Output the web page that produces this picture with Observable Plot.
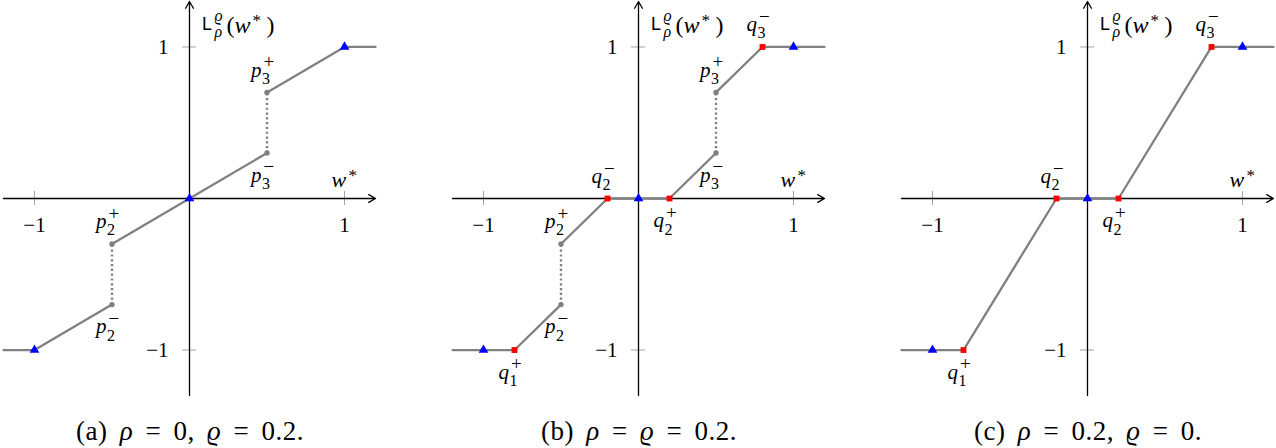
<!DOCTYPE html>
<html>
<head>
<meta charset="utf-8">
<script src="https://cdn.jsdelivr.net/npm/d3@7"></script>
<script src="https://cdn.jsdelivr.net/npm/@observablehq/plot@0.6"></script>
<style>
  html, body { margin: 0; padding: 0; background: #fff; }
  body { width: 1276px; height: 448px; overflow: hidden; position: relative; font-family: "Liberation Serif"; }
  .panel { position: absolute; top: 0; width: 380px; height: 448px; }
  .panel svg { display: block; overflow: visible; }
  .cap { position: absolute; top: 415px; left: 0; width: 380px; text-align: center; font-size: 27px; line-height: 32px; word-spacing: 5px; letter-spacing: 0.5px; color: #000; white-space: nowrap; font-family: "Liberation Serif"; }
</style>
</head>
<body>
<div id="root"></div>
<script>
// ---------------- data ----------------
const axisX = [-1.2, 1.2];
const axisY = [-1.3, 1.3];
const xTicks = [-1, 1];
const xTickLabels = ["\u22121", "1"];
const yTicks = [-1, 1];
const yTickLabels = ["\u22121", "1"];
const captions = ["(a) \u03c1 = 0, \u03f1 = 0.2.", "(b) \u03c1 = \u03f1 = 0.2.", "(c) \u03c1 = 0.2, \u03f1 = 0."];

// panel (a)
const curveA_x = [-1.2, -1, -0.5, -0.5, 0, 0.5, 0.5, 1, 1.2];
const curveA_y = [-1, -1, -0.7, -0.3, 0, 0.3, 0.7, 1, 1];
const curveA_seg = [1, 1, 1, 2, 2, 2, 3, 3, 3];
const jumpA_x = [-0.5, 0.5];
const jumpA_lo = [-0.7, 0.3];
const jumpA_hi = [-0.3, 0.7];
const triA_x = [-1, 0, 1];
const triA_y = [-1, 0, 1];
const sqA_x = [];
const sqA_y = [];
const labA_base = ["p", "p", "p", "p"];
const labA_sub = ["2", "2", "3", "3"];
const labA_sup = ["\u2212", "+", "\u2212", "+"];
const labA_x = [-0.5, -0.5, 0.5, 0.5];
const labA_y = [-0.7, -0.3, 0.3, 0.7];
const labA_side = ["below", "above", "below", "above"];

// panel (b)
const curveB_x = [-1.2, -0.8, -0.5, -0.5, -0.2, 0.2, 0.5, 0.5, 0.8, 1.2];
const curveB_y = [-1, -1, -0.7, -0.3, 0, 0, 0.3, 0.7, 1, 1];
const curveB_seg = [1, 1, 1, 2, 2, 2, 2, 3, 3, 3];
const jumpB_x = [-0.5, 0.5];
const jumpB_lo = [-0.7, 0.3];
const jumpB_hi = [-0.3, 0.7];
const triB_x = [-1, 0, 1];
const triB_y = [-1, 0, 1];
const sqB_x = [-0.8, -0.2, 0.2, 0.8];
const sqB_y = [-1, 0, 0, 1];
const labB_base = ["p", "p", "p", "p", "q", "q", "q", "q"];
const labB_sub = ["2", "2", "3", "3", "1", "2", "2", "3"];
const labB_sup = ["\u2212", "+", "\u2212", "+", "+", "\u2212", "+", "\u2212"];
const labB_x = [-0.5, -0.5, 0.5, 0.5, -0.8, -0.2, 0.2, 0.8];
const labB_y = [-0.7, -0.3, 0.3, 0.7, -1, 0, 0, 1];
const labB_side = ["below", "above", "below", "above", "below", "above", "below", "above"];

// panel (c)
const curveC_x = [-1.2, -0.8, -0.2, 0.2, 0.8, 1.2];
const curveC_y = [-1, -1, 0, 0, 1, 1];
const curveC_seg = [1, 1, 1, 1, 1, 1];
const jumpC_x = [];
const jumpC_lo = [];
const jumpC_hi = [];
const triC_x = [-1, 0, 1];
const triC_y = [-1, 0, 1];
const sqC_x = [-0.8, -0.2, 0.2, 0.8];
const sqC_y = [-1, 0, 0, 1];
const labC_base = ["q", "q", "q", "q"];
const labC_sub = ["1", "2", "2", "3"];
const labC_sup = ["+", "\u2212", "+", "\u2212"];
const labC_x = [-0.8, -0.2, 0.2, 0.8];
const labC_y = [-1, 0, 0, 1];
const labC_side = ["below", "above", "below", "above"];

// ---------------- drawing ----------------
const GRAY = "#808080";
const SERIF = "Liberation Serif";
const SANS = "Liberation Sans";
const panelLefts = [0, 449, 898];

function zipPts(xs, ys, extra = {}) {
  return xs.map((x, i) => {
    const o = {x, y: ys[i]};
    for (const k in extra) o[k] = extra[k][i];
    return o;
  });
}

function labelMarks(labels) {
  const marks = [];
  const offs = {
    above: {base: -15.5, sub: -8.5, sup: -24},
    below: {base: 28.5, sub: 36, sup: 20}
  };
  for (const side of ["above", "below"]) {
    const d = labels.filter(l => l.side === side);
    if (!d.length) continue;
    const o = offs[side];
    marks.push(Plot.text(d, {x: "x", y: "y", text: "base", textAnchor: "start", lineAnchor: "bottom",
      dx: -16, dy: o.base, fontSize: 21, fontStyle: "italic", fontFamily: SERIF, fill: "black"}));
    marks.push(Plot.text(d, {x: "x", y: "y", text: "sub", textAnchor: "start", lineAnchor: "bottom",
      dx: -5, dy: o.sub, fontSize: 16, fontFamily: SERIF, fill: "black"}));
    marks.push(Plot.text(d, {x: "x", y: "y", text: "sup", textAnchor: "start", lineAnchor: "bottom",
      dx: -3.5, dy: o.sup, fontSize: 19, fontFamily: SERIF, fill: "black"}));
  }
  return marks;
}

function txt(str, x, y, opts) {
  return Plot.text([str], Object.assign({x: () => x, y: () => y, text: d => d, textAnchor: "start", lineAnchor: "bottom",
    fontFamily: SERIF, fontSize: 22, fill: "black"}, opts));
}

function makePanel(p) {
  const curve = zipPts(p.cx, p.cy, {seg: p.cseg});
  const jumps = p.jx.map((x, i) => ({x, lo: p.jlo[i], hi: p.jhi[i]}));
  const ends = jumps.flatMap(j => [{x: j.x, y: j.lo}, {x: j.x, y: j.hi}]);
  const tris = zipPts(p.tx, p.ty);
  const sqs = zipPts(p.sx, p.sy);
  const labels = zipPts(p.lx, p.ly, {base: p.lbase, sub: p.lsub, sup: p.lsup, side: p.lside});

  const marks = [
    // axis ticks
    Plot.ruleX(xTicks, {x: d => d, y1: 0, y2: 0, insetTop: -7, insetBottom: -7, stroke: "#8a8a8a", strokeWidth: 0.8}),
    Plot.ruleY(yTicks, {y: d => d, x1: 0, x2: 0, insetLeft: -7, insetRight: -7, stroke: "#8a8a8a", strokeWidth: 0.8}),
    // axes with arrow heads
    Plot.arrow([0], {x1: axisX[0], x2: axisX[1], y1: 0, y2: 0, stroke: "black", strokeWidth: 1.3, headLength: 9, headAngle: 60}),
    Plot.arrow([0], {x1: 0, x2: 0, y1: axisY[0], y2: axisY[1], stroke: "black", strokeWidth: 1.3, headLength: 9, headAngle: 60}),
    // tick labels
    Plot.text(xTicks, {x: d => d, y: 0, text: (d, i) => xTickLabels[i], lineAnchor: "bottom", dy: 33, fontSize: 21, fontFamily: SERIF, fill: "black"}),
    Plot.text(yTicks, {x: 0, y: d => d, text: (d, i) => yTickLabels[i], textAnchor: "end", dx: -21, fontSize: 21, fontFamily: SERIF, fill: "black"}),
    // the function
    Plot.line(curve, {x: "x", y: "y", z: "seg", stroke: GRAY, strokeWidth: 2.3}),
    Plot.link(jumps, {x1: "x", x2: "x", y1: "lo", y2: "hi", stroke: GRAY, strokeWidth: 2.4, strokeDasharray: "2.2,2.6"}),
    Plot.dot(ends, {x: "x", y: "y", r: 2.7, fill: GRAY}),
    Plot.dot(sqs, {x: "x", y: "y", symbol: "square", r: 3.3, fill: "#ff0000"}),
    Plot.dot(tris, {x: "x", y: "y", symbol: "triangle", r: 3.6, fill: "#0000ff"}),
    ...labelMarks(labels),
    // axis titles
    txt("L", 0, axisY[1], {dx: 12.5, dy: 28, fontFamily: SANS, fontSize: 18}),
    txt("\u03f1", 0, axisY[1], {dx: 25, dy: 19, fontStyle: "italic", fontSize: 16}),
    txt("\u03c1", 0, axisY[1], {dx: 25, dy: 35, fontStyle: "italic", fontSize: 16}),
    txt("(", 0, axisY[1], {dx: 37, dy: 31, fontSize: 24}),
    txt("w", 0, axisY[1], {dx: 45, dy: 31, fontStyle: "italic", fontSize: 24}),
    txt("*", 0, axisY[1], {dx: 63, dy: 24, fontSize: 17}),
    txt(")", 0, axisY[1], {dx: 77, dy: 31, fontSize: 24}),
    txt("w", xTicks[1], 0, {dx: -13, dy: -11.5, fontStyle: "italic"}),
    txt("*", xTicks[1], 0, {dx: 4, dy: -18, fontSize: 17})
  ];

  return Plot.plot({
    width: 380, height: 400,
    marginLeft: 3, marginRight: 5, marginTop: 1, marginBottom: 5,
    x: {domain: axisX, axis: null},
    y: {domain: axisY, axis: null},
    style: {background: "white", overflow: "visible", fontFamily: SERIF},
    marks
  });
}

const panelData = [
  {cx: curveA_x, cy: curveA_y, cseg: curveA_seg, jx: jumpA_x, jlo: jumpA_lo, jhi: jumpA_hi, tx: triA_x, ty: triA_y, sx: sqA_x, sy: sqA_y,
   lbase: labA_base, lsub: labA_sub, lsup: labA_sup, lx: labA_x, ly: labA_y, lside: labA_side},
  {cx: curveB_x, cy: curveB_y, cseg: curveB_seg, jx: jumpB_x, jlo: jumpB_lo, jhi: jumpB_hi, tx: triB_x, ty: triB_y, sx: sqB_x, sy: sqB_y,
   lbase: labB_base, lsub: labB_sub, lsup: labB_sup, lx: labB_x, ly: labB_y, lside: labB_side},
  {cx: curveC_x, cy: curveC_y, cseg: curveC_seg, jx: jumpC_x, jlo: jumpC_lo, jhi: jumpC_hi, tx: triC_x, ty: triC_y, sx: sqC_x, sy: sqC_y,
   lbase: labC_base, lsub: labC_sub, lsup: labC_sup, lx: labC_x, ly: labC_y, lside: labC_side}
];

const root = document.getElementById("root");
panelData.forEach((p, i) => {
  const div = document.createElement("div");
  div.className = "panel";
  div.style.left = panelLefts[i] + "px";
  div.appendChild(makePanel(p));
  const cap = document.createElement("div");
  cap.className = "cap";
  cap.innerHTML = captions[i].replace(/([\u03c1\u03f1])/g, "<i>$1</i>");
  div.appendChild(cap);
  root.appendChild(div);
});
</script>
</body>
</html>
